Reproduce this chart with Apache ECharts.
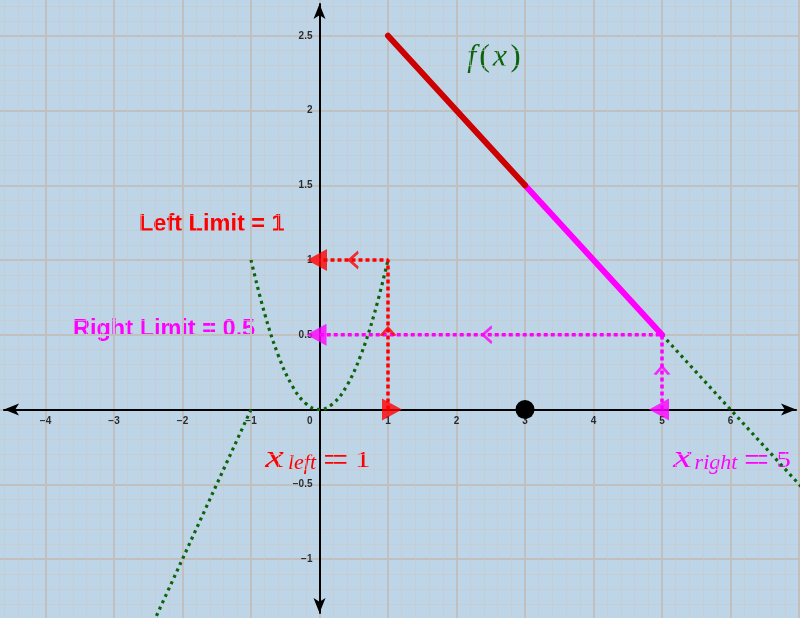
<!DOCTYPE html>
<html>
<head>
<meta charset="utf-8">
<script src="https://cdn.jsdelivr.net/npm/echarts@6/dist/echarts.min.js"></script>
<style>
html,body{margin:0;padding:0;background:#bed5e8;}
#c{width:800px;height:618px;}
</style>
</head>
<body>
<div id="c"></div>
<script>
// ---------------- data ----------------
const parabolaX = [-1, -0.8, -0.6, -0.4, -0.2, 0, 0.2, 0.4, 0.6, 0.8, 1];
const parabolaY = [1, 0.64, 0.36, 0.16, 0.04, 0, 0.04, 0.16, 0.36, 0.64, 1];
const leftBranchX = [-1, -3];
const leftBranchY = [0, -2];
const rightBranchX = [5, 8];
const rightBranchY = [0.5, -1];
const redSegX = [1, 3];
const redSegY = [2.5, 1.5];
const magentaSegX = [3, 5];
const magentaSegY = [1.5, 0.5];
const leftLimitPathX = [1, 1, 0];
const leftLimitPathY = [0, 1, 1];
const rightLimitPathX = [5, 5, 0];
const rightLimitPathY = [0, 0.5, 0.5];
const redLeftChevrons = [[0.5, 1]];
const redUpChevrons = [[1, 0.52]];
const magentaLeftChevrons = [[2.45, 0.5]];
const magentaUpChevrons = [[5, 0.26]];
const redRightTriangles = [[1, 0]];
const redLeftTriangles = [[0, 1]];
const magentaLeftTriangles = [[0, 0.5], [5, 0]];
const pointX = [3];
const pointY = [0];
const leftLimitValue = 1;
const rightLimitValue = 0.5;
const xLeft = 1;
const xRight = 5;
const xTickValues = [-4, -3, -2, -1, 1, 2, 3, 4, 5, 6];
const originLabel = [0];
const yTickValues = [-1, -0.5, 0.5, 1, 1.5, 2, 2.5];

// ---------------- layout ----------------
const W = 800, H = 618;
const PXX = 68.5, PXY = 149.5, OX = 319.5, OY = 409.5;
const g0 = { xMin: -5, xMax: 8, yMin: -1.5, yMax: 3 };
const grid0 = {
  left: OX + g0.xMin * PXX,
  top: OY - g0.yMax * PXY,
  width: (g0.xMax - g0.xMin) * PXX,
  height: (g0.yMax - g0.yMin) * PXY
};
const m1 = { l: 4, r: 4, t: 4, b: 5 };
const ax1 = {
  xMin: (m1.l - OX) / PXX,
  xMax: (W - m1.r - OX) / PXX,
  yMax: (OY - m1.t) / PXY,
  yMin: (OY - (H - m1.b)) / PXY
};

const GREEN = '#0b630b';
const RED = '#ff0000';
const DARKRED = '#cc0000';
const MAGENTA = '#ff00ff';
const LABEL_FONT = 'Liberation Sans';
const SERIF = 'Liberation Serif';

const zip = (xs, ys) => xs.map((x, i) => [x, ys[i]]);
const minus = v => (v < 0 ? '\u2212' : '') + Math.abs(v);

function lineS(xs, ys, color, width, type, z, cap, extra) {
  return Object.assign({
    type: 'line', xAxisIndex: 0, yAxisIndex: 0,
    data: zip(xs, ys), showSymbol: false, symbol: 'none',
    lineStyle: { color: color, width: width, type: type, cap: cap || 'butt' },
    z: z, silent: true, animation: false
  }, extra || {});
}
function chevron(data, color, dir) {
  return {
    type: 'scatter', xAxisIndex: 0, yAxisIndex: 0, data: data,
    symbol: dir === 'left' ? 'path://M10,0 L0,10 L10,20' : 'path://M0,10 L10,0 L20,10',
    symbolSize: dir === 'left' ? [9, 16] : [14, 8],
    itemStyle: { color: 'rgba(0,0,0,0)', borderColor: color, borderWidth: 2.5 },
    z: 6, silent: true, animation: false
  };
}
function triangles(data, color, rot, off) {
  return {
    type: 'scatter', xAxisIndex: 0, yAxisIndex: 0, data: data,
    symbol: 'triangle', symbolSize: [22, 20], symbolRotate: rot, symbolOffset: off,
    itemStyle: { color: color }, z: 7, silent: true, animation: false
  };
}
const tickLabelStyle = { fontFamily: LABEL_FONT, fontWeight: 'bold', fontSize: 10, color: '#000' };
function tickLabels(data, position, fmt, extra) {
  return {
    type: 'scatter', xAxisIndex: 0, yAxisIndex: 0, data: data,
    symbol: 'circle', symbolSize: 0, itemStyle: { color: 'rgba(0,0,0,0)' },
    label: Object.assign({ show: true, position: position, distance: 7, formatter: fmt }, tickLabelStyle, extra || {}),
    labelLayout: { hideOverlap: false },
    z: 1, silent: true, animation: false
  };
}

const series = [
  tickLabels(xTickValues.map(v => [v, 0]), 'bottom', p => minus(p.value[0])),
  tickLabels(originLabel.map(v => [v, 0]), [-12.5, 7], p => String(p.value[0]), { align: 'left', verticalAlign: 'top' }),
  tickLabels(yTickValues.map(v => [0, v]), 'left', p => minus(p.value[1])),
  lineS(parabolaX, parabolaY, GREEN, 3.2, [3, 4], 3, 'butt', { smooth: 0.4 }),
  lineS(leftBranchX, leftBranchY, GREEN, 3.2, [3, 4], 3),
  lineS(rightBranchX, rightBranchY, GREEN, 3.2, [3, 4], 3),
  lineS(magentaSegX, magentaSegY, MAGENTA, 6, 'solid', 4, 'round'),
  lineS(redSegX, redSegY, DARKRED, 6, 'solid', 4, 'round'),
  lineS(leftLimitPathX, leftLimitPathY, RED, 3.5, [4, 3], 5),
  lineS(rightLimitPathX, rightLimitPathY, MAGENTA, 3.5, [4, 3], 5),
  chevron(redLeftChevrons, RED, 'left'),
  chevron(redUpChevrons, RED, 'up'),
  chevron(magentaLeftChevrons, MAGENTA, 'left'),
  chevron(magentaUpChevrons, MAGENTA, 'up'),
  triangles(redRightTriangles, RED, -90, [4, 0]),
  triangles(redLeftTriangles, RED, 90, [-2.5, 0]),
  triangles(magentaLeftTriangles, MAGENTA, 90, [-3, 0]),
  {
    type: 'scatter', xAxisIndex: 0, yAxisIndex: 0, data: zip(pointX, pointY),
    symbol: 'circle', symbolSize: 19, itemStyle: { color: '#000', opacity: 1 }, z: 8, silent: true, animation: false
  }
];

function txt(text, x, y, size, family, style, weight, fill, sx, align) {
  return {
    type: 'text', x: x, y: y, scaleX: sx || 1, silent: true,
    style: {
      text: text, fontSize: size, fontFamily: family, fontStyle: style, fontWeight: weight,
      fill: fill, align: align || 'center', verticalAlign: 'middle'
    }
  };
}

const graphic = [
  {
    type: 'text', x: 494, y: 58, silent: true,
    style: {
      text: '{i|f}{p|(}{i|x}{p|)}', align: 'center', verticalAlign: 'middle',
      rich: {
        i: { fontSize: 32, fontFamily: SERIF, fontStyle: 'italic', fill: GREEN, padding: [0, 1.5] },
        p: { fontSize: 32, fontFamily: SERIF, fontStyle: 'normal', fill: GREEN, padding: [0, 1.5] }
      }
    }
  },
  txt('Left Limit = ' + leftLimitValue, 139, 225, 23.5, LABEL_FONT, 'normal', 'bold', RED, 1, 'left'),
  txt('Right Limit = ' + rightLimitValue, 73, 330, 23.5, LABEL_FONT, 'normal', 'bold', MAGENTA, 1, 'left'),
  txt('x', 274.5, 458.5, 31, SERIF, 'italic', 'normal', RED, 1.35),
  txt('left', 302, 463.6, 22, SERIF, 'italic', 'normal', RED, 1),
  txt('=', 335.7, 462, 34, SERIF, 'normal', 'normal', RED, 1.35),
  txt(String(xLeft), 362.7, 461, 23, SERIF, 'normal', 'normal', RED, 1.35),
  txt('x', 682.5, 458.5, 31, SERIF, 'italic', 'normal', MAGENTA, 1.35),
  txt('right', 716, 463.6, 22, SERIF, 'italic', 'normal', MAGENTA, 1),
  txt('=', 756.5, 462, 34, SERIF, 'normal', 'normal', MAGENTA, 1.35),
  txt(String(xRight), 783.7, 461, 23, SERIF, 'normal', 'normal', MAGENTA, 1.25)
];

const option = {
  backgroundColor: '#bed5e8',
  animation: false,
  grid: [
    Object.assign({ show: false, containLabel: false, outerBoundsMode: 'none' }, grid0),
    { show: false, containLabel: false, outerBoundsMode: 'none', left: m1.l, right: m1.r, top: m1.t, bottom: m1.b }
  ],
  xAxis: [
    {
      gridIndex: 0, type: 'value', min: g0.xMin, max: g0.xMax, interval: 1,
      axisLine: { show: false },
      axisTick: { show: false },
      axisLabel: { show: false },
      minorTick: { show: false, splitNumber: 5 },
      splitLine: { show: true, lineStyle: { color: '#c0c0c0', width: 2 } },
      minorSplitLine: { show: true, lineStyle: { color: 'rgba(200,200,200,0.55)', width: 1 } }
    },
    {
      gridIndex: 1, type: 'value', min: ax1.xMin, max: ax1.xMax, z: 1,
      axisLine: { show: true, onZero: true, symbol: ['arrow', 'arrow'], symbolSize: [9, 15],
        lineStyle: { color: '#000', width: 2 } },
      axisTick: { show: false }, axisLabel: { show: false }, splitLine: { show: false }
    }
  ],
  yAxis: [
    {
      gridIndex: 0, type: 'value', min: g0.yMin, max: g0.yMax, interval: 0.5,
      axisLine: { show: false },
      axisTick: { show: false },
      axisLabel: { show: false },
      minorTick: { show: false, splitNumber: 5 },
      splitLine: { show: true, lineStyle: { color: '#c0c0c0', width: 2 } },
      minorSplitLine: { show: true, lineStyle: { color: 'rgba(200,200,200,0.55)', width: 1 } }
    },
    {
      gridIndex: 1, type: 'value', min: ax1.yMin, max: ax1.yMax, z: 1,
      axisLine: { show: true, onZero: true, symbol: ['arrow', 'arrow'], symbolSize: [9, 15],
        lineStyle: { color: '#000', width: 2 } },
      axisTick: { show: false }, axisLabel: { show: false }, splitLine: { show: false }
    }
  ],
  graphic: graphic,
  series: series
};

const chart = echarts.init(document.getElementById('c'));
chart.setOption(option);
</script>
</body>
</html>
